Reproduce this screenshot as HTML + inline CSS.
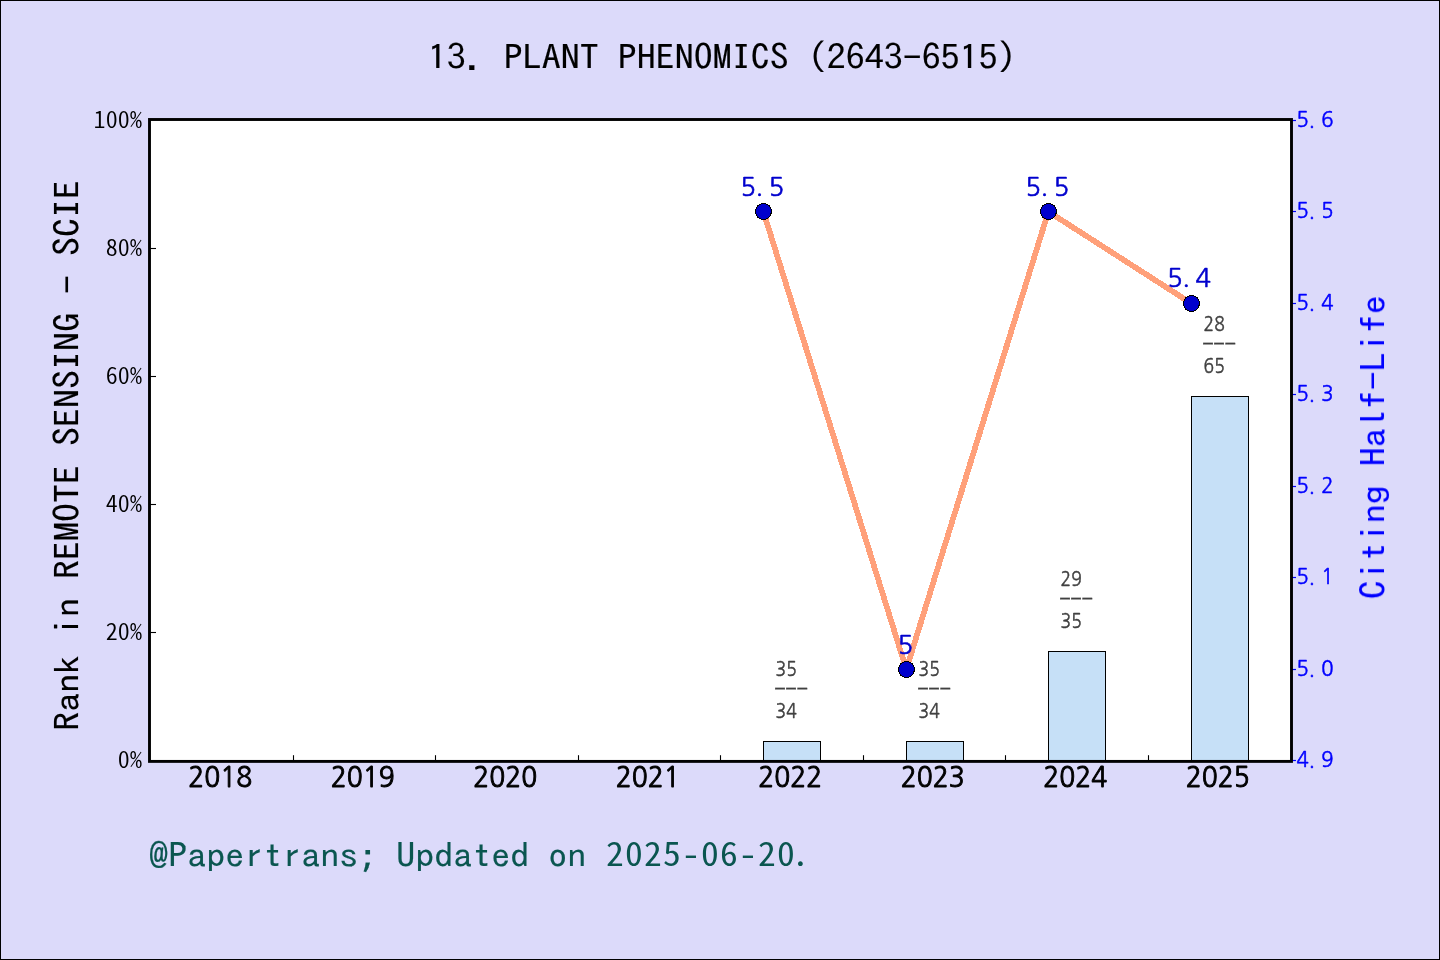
<!DOCTYPE html>
<html lang="en">
<head>
<meta charset="utf-8">
<title>13. PLANT PHENOMICS (2643-6515)</title>
<style>
  html, body { margin: 0; padding: 0; width: 1440px; height: 960px; overflow: hidden; background: #dcdafa; }
  #fig { position: absolute; left: 0; top: 0; width: 1440px; height: 960px; will-change: transform; }
  svg { position: absolute; left: 0; top: 0; display: block; }
  text { white-space: pre; font-kerning: none; }
  .ipa  { font-family: "IPAGothic", "Liberation Mono", monospace; stroke-width: 0.15px; }
  .nan  { font-family: "NanumGothic", "Liberation Sans", sans-serif; }
  .hw   { font-family: "Noto Sans CJK SC", "Noto Sans CJK JP", "Liberation Mono", monospace; font-feature-settings: "hwid"; }
  .blk  { fill: #000; stroke: #000; }
  .blu  { fill: #0000ff; stroke: #0000ff; }
  .mbl  { fill: #0000cd; stroke: #0000cd; }
  .teal { fill: #0b5650; stroke: #0b5650; }
  .gry  { fill: #404040; stroke: #404040; }
  .hw.blk, .hw.teal { stroke: none; }
  .xt   { stroke-width: 1.0px; }
  .y2t  { stroke-width: 0.55px; }
  .val  { stroke-width: 0.6px; }
  .ann  { stroke-width: 0.45px; }
</style>
</head>
<body>
<div id="fig">
<svg width="1440" height="960" viewBox="0 0 1440 960">
<rect x="0.5" y="0.5" width="1439" height="959" fill="none" stroke="#000" stroke-width="1"/>
<rect x="149.5" y="119.5" width="1142" height="642" fill="#ffffff"/>
<g fill="#c6e0f7" stroke="#000" stroke-width="1">
<rect x="763.5" y="741.5" width="57" height="19.5"/>
<rect x="906.5" y="741.5" width="57" height="19.5"/>
<rect x="1048.5" y="651.5" width="57" height="109.5"/>
<rect x="1191.5" y="396.5" width="57" height="364.5"/>
</g>
<text class="nan gry ann" transform="translate(775.55 676.1) scale(0.92 1)" font-size="19" x="0 11.52">35</text>
<text class="ipa gry" style="stroke-width:0.2px" transform="translate(773.92 696.4) scale(1.16 1)" font-size="20.8" letter-spacing="-0.79">---</text>
<text class="nan gry ann" transform="translate(775.55 717.9) scale(0.92 1)" font-size="19" x="0 11.52">34</text>
<text class="nan gry ann" transform="translate(918.55 676.1) scale(0.92 1)" font-size="19" x="0 11.52">35</text>
<text class="ipa gry" style="stroke-width:0.2px" transform="translate(916.92 696.4) scale(1.16 1)" font-size="20.8" letter-spacing="-0.79">---</text>
<text class="nan gry ann" transform="translate(918.55 717.9) scale(0.92 1)" font-size="19" x="0 11.52">34</text>
<text class="nan gry ann" transform="translate(1060.55 586.1) scale(0.92 1)" font-size="19" x="0 11.52">29</text>
<text class="ipa gry" style="stroke-width:0.2px" transform="translate(1058.92 606.4) scale(1.16 1)" font-size="20.8" letter-spacing="-0.79">---</text>
<text class="nan gry ann" transform="translate(1060.55 627.9) scale(0.92 1)" font-size="19" x="0 11.52">35</text>
<text class="nan gry ann" transform="translate(1203.55 331.1) scale(0.92 1)" font-size="19" x="0 11.52">28</text>
<text class="ipa gry" style="stroke-width:0.2px" transform="translate(1201.92 351.4) scale(1.16 1)" font-size="20.8" letter-spacing="-0.79">---</text>
<text class="nan gry ann" transform="translate(1203.55 372.9) scale(0.92 1)" font-size="19" x="0 11.52">65</text>
<polyline points="763.4,211.6 906.3,669.3 1048.4,211.6 1191.3,303.4" fill="none" stroke="#ffa07a" stroke-width="5.75" stroke-linejoin="round" stroke-linecap="butt" shape-rendering="crispEdges"/>
<g fill="#0000cd" stroke="#000" stroke-width="1.1" shape-rendering="crispEdges">
<circle cx="763.5" cy="211.5" r="7.95"/>
<circle cx="906.5" cy="669.5" r="7.95"/>
<circle cx="1048.5" cy="211.5" r="7.95"/>
<circle cx="1191.5" cy="303.5" r="7.95"/>
</g>
<text class="nan mbl val" transform="translate(741.2 195.6) scale(1.02 1)" font-size="25" x="-0.67 14.09 26.93" y="0 -0.88 0">5.5</text>
<text class="nan mbl val" transform="translate(898.4 654.3) scale(1.02 1)" font-size="25" x="-0.67">5</text>
<text class="nan mbl val" transform="translate(1026.2 195.6) scale(1.02 1)" font-size="25" x="-0.67 14.09 26.93" y="0 -0.88 0">5.5</text>
<text class="nan mbl val" transform="translate(1168 287) scale(1.02 1)" font-size="25" x="-0.67 14.09 26.93" y="0 -0.88 0">5.4</text>
<g stroke="#000" stroke-width="1.1">
<line x1="150" x2="156" y1="632.5" y2="632.5"/>
<line x1="150" x2="156" y1="504.5" y2="504.5"/>
<line x1="150" x2="156" y1="376.5" y2="376.5"/>
<line x1="150" x2="156" y1="248.5" y2="248.5"/>
<line x1="293.5" x2="293.5" y1="761" y2="755.2"/>
<line x1="435.5" x2="435.5" y1="761" y2="755.2"/>
<line x1="578.5" x2="578.5" y1="761" y2="755.2"/>
<line x1="720.5" x2="720.5" y1="761" y2="755.2"/>
<line x1="863.5" x2="863.5" y1="761" y2="755.2"/>
<line x1="1005.5" x2="1005.5" y1="761" y2="755.2"/>
<line x1="1148.5" x2="1148.5" y1="761" y2="755.2"/>
</g>
<g stroke="#0000ff" stroke-width="1.2">
<line x1="1292" x2="1296" y1="120.5" y2="120.5"/>
<line x1="1292" x2="1296" y1="211.5" y2="211.5"/>
<line x1="1292" x2="1296" y1="303.5" y2="303.5"/>
<line x1="1292" x2="1296" y1="394.5" y2="394.5"/>
<line x1="1292" x2="1296" y1="486.5" y2="486.5"/>
<line x1="1292" x2="1296" y1="577.5" y2="577.5"/>
<line x1="1292" x2="1296" y1="669.5" y2="669.5"/>
<line x1="1292" x2="1296" y1="760.5" y2="760.5"/>
</g>
<rect x="149.5" y="119.5" width="1142" height="641.9" fill="none" stroke="#000" stroke-width="2.9"/>
<text class="hw blk" transform="translate(93.5 127.7) scale(1.04 1)" font-size="23.1" x="0.07 11.75 23.43 35.11" font-weight="350">100%</text>
<text class="hw blk" transform="translate(105.65 255.7) scale(1.04 1)" font-size="23.1" x="0.07 11.75 23.43" font-weight="350">80%</text>
<text class="hw blk" transform="translate(105.65 383.7) scale(1.04 1)" font-size="23.1" x="0.07 11.75 23.43" font-weight="350">60%</text>
<text class="hw blk" transform="translate(105.65 511.7) scale(1.04 1)" font-size="23.1" x="0.07 11.75 23.43" font-weight="350">40%</text>
<text class="hw blk" transform="translate(105.65 639.7) scale(1.04 1)" font-size="23.1" x="0.07 11.75 23.43" font-weight="350">20%</text>
<text class="hw blk" transform="translate(117.8 767.7) scale(1.04 1)" font-size="23.1" x="0.07 11.75" font-weight="350">0%</text>
<text class="nan blu y2t" transform="translate(1296.6 127.3) scale(0.93 1)" font-size="21.8" x="0 13.06 26.41" y="0 -0.76 0">5.6</text>
<text class="nan blu y2t" transform="translate(1296.6 218.3) scale(0.93 1)" font-size="21.8" x="0 13.06 26.41" y="0 -0.76 0">5.5</text>
<text class="nan blu y2t" transform="translate(1296.6 310.3) scale(0.93 1)" font-size="21.8" x="0 13.06 26.41" y="0 -0.76 0">5.4</text>
<text class="nan blu y2t" transform="translate(1296.6 401.3) scale(0.93 1)" font-size="21.8" x="0 13.06 26.41" y="0 -0.76 0">5.3</text>
<text class="nan blu y2t" transform="translate(1296.6 493.3) scale(0.93 1)" font-size="21.8" x="0 13.06 26.41" y="0 -0.76 0">5.2</text>
<text class="nan blu y2t" transform="translate(1296.6 584.3) scale(0.93 1)" font-size="21.8" x="0 13.06 26.41" y="0 -0.76 0">5.1</text>
<text class="nan blu y2t" transform="translate(1296.6 676.3) scale(0.93 1)" font-size="21.8" x="0 13.06 26.41" y="0 -0.76 0">5.0</text>
<text class="nan blu y2t" transform="translate(1296.6 767.3) scale(0.93 1)" font-size="21.8" x="0 13.06 26.41" y="0 -0.76 0">4.9</text>
<text class="nan blk xt" transform="translate(188.15 786.8) scale(0.92 1)" font-size="28.7" x="0 17.39 34.78 52.17">2018</text>
<text class="nan blk xt" transform="translate(330.65 786.8) scale(0.92 1)" font-size="28.7" x="0 17.39 34.78 52.17">2019</text>
<text class="nan blk xt" transform="translate(473.15 786.8) scale(0.92 1)" font-size="28.7" x="0 17.39 34.78 52.17">2020</text>
<text class="nan blk xt" transform="translate(615.65 786.8) scale(0.92 1)" font-size="28.7" x="0 17.39 34.78 52.17">2021</text>
<text class="nan blk xt" transform="translate(758.15 786.8) scale(0.92 1)" font-size="28.7" x="0 17.39 34.78 52.17">2022</text>
<text class="nan blk xt" transform="translate(900.65 786.8) scale(0.92 1)" font-size="28.7" x="0 17.39 34.78 52.17">2023</text>
<text class="nan blk xt" transform="translate(1043.15 786.8) scale(0.92 1)" font-size="28.7" x="0 17.39 34.78 52.17">2024</text>
<text class="nan blk xt" transform="translate(1185.65 786.8) scale(0.92 1)" font-size="28.7" x="0 17.39 34.78 52.17">2025</text>
<text class="ipa blk" transform="translate(427.85 69.62) scale(1.12 1)" font-size="33.9" letter-spacing="0.01">13. PLANT PHENOMICS (2643-6515)</text>
<text class="ipa blk" transform="translate(80.02 730.85) rotate(-90) scale(1.12 1)" font-size="33.9" letter-spacing="0.01">Rank in REMOTE SENSING - SCIE</text>
<text class="ipa blu" transform="translate(1386.02 599.14) rotate(-90) scale(1.12 1)" font-size="33.9" letter-spacing="0.01">Citing Half-Life</text>
<text class="ipa teal" transform="translate(149.35 867.72) scale(1.12 1)" font-size="33.9" letter-spacing="0.01">@Papertrans; Updated on </text>
<text class="hw teal" transform="translate(605.35 866) scale(1.06 1)" font-size="33.6" x="0.56 18.49 36.41 54.34 72.26 90.18 108.11 126.03 143.96 161.88 175.51">2025-06-20.</text>
</svg>
</div>
</body>
</html>
